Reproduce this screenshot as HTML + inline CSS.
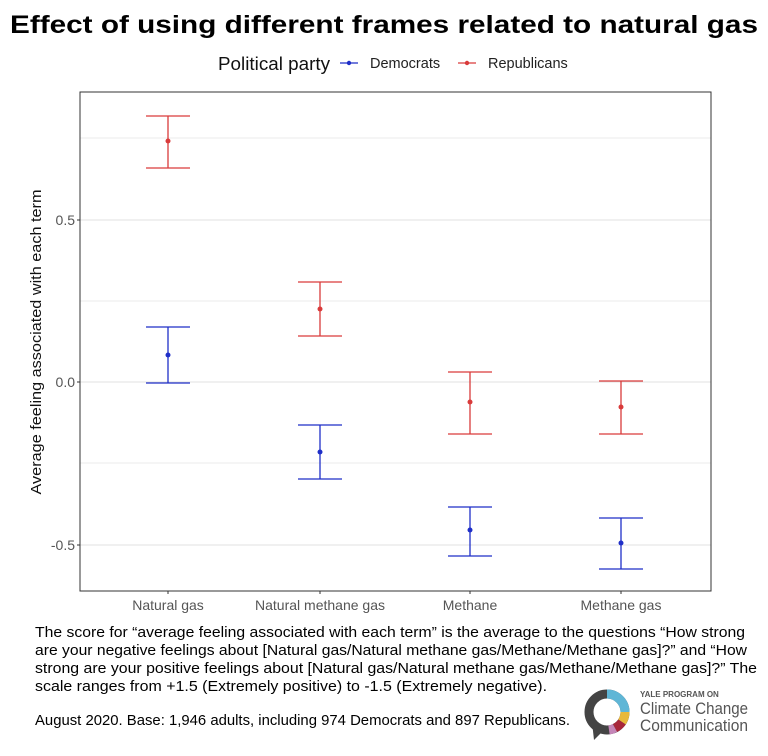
<!DOCTYPE html>
<html><head><meta charset="utf-8"><style>
body{margin:0;background:#fff;width:768px;height:751px;overflow:hidden;font-family:"Liberation Sans",Arial,sans-serif}
</style></head><body>
<svg width="768" height="751" xmlns="http://www.w3.org/2000/svg" font-family="Liberation Sans, Arial, sans-serif">
<text x="10" y="33" textLength="748" lengthAdjust="spacingAndGlyphs" font-size="25" font-weight="bold" fill="#000">Effect of using different frames related to natural gas</text>
<text x="218" y="70" textLength="112" lengthAdjust="spacingAndGlyphs" font-size="18" fill="#111">Political party</text>
<line x1="340" y1="63" x2="358" y2="63" stroke="#1f2fc8" stroke-width="1.3"/><circle cx="349" cy="63" r="2.2" fill="#1f2fc8"/>
<text x="370" y="68" font-size="14.5" fill="#222">Democrats</text>
<line x1="458" y1="63" x2="476" y2="63" stroke="#d93b3b" stroke-width="1.3"/><circle cx="467" cy="63" r="2.2" fill="#d93b3b"/>
<text x="488" y="68" font-size="14.5" fill="#222">Republicans</text>
<g stroke="#ebebeb" stroke-width="1">
<line x1="80" x2="711" y1="138" y2="138"/><line x1="80" x2="711" y1="301" y2="301"/><line x1="80" x2="711" y1="463" y2="463"/>
</g>
<g stroke="#e0e0e0" stroke-width="1">
<line x1="80" x2="711" y1="220" y2="220"/><line x1="80" x2="711" y1="382" y2="382"/><line x1="80" x2="711" y1="545" y2="545"/>
</g>
<rect x="80" y="92" width="631" height="499" fill="none" stroke="#333" stroke-width="1"/>
<g fill="#555" font-size="14" text-anchor="end">
<text x="75" y="225">0.5</text><text x="75" y="387">0.0</text><text x="75" y="550">-0.5</text>
</g>
<g stroke="#333"><line x1="77" x2="80" y1="220" y2="220"/><line x1="77" x2="80" y1="382" y2="382"/><line x1="77" x2="80" y1="545" y2="545"/>
<line x1="168" x2="168" y1="591" y2="594"/><line x1="320" x2="320" y1="591" y2="594"/><line x1="470" x2="470" y1="591" y2="594"/><line x1="621" x2="621" y1="591" y2="594"/></g>
<g fill="#555" font-size="14" text-anchor="middle">
<text x="168" y="610">Natural gas</text><text x="320" y="610">Natural methane gas</text><text x="470" y="610">Methane</text><text x="621" y="610">Methane gas</text>
</g>
<text transform="translate(41,342) rotate(-90)" text-anchor="middle" textLength="305" lengthAdjust="spacingAndGlyphs" font-size="15" fill="#111">Average feeling associated with each term</text>
<g stroke="#d93b3b" stroke-width="1.3" fill="#d93b3b">
<path d="M146 116H190M168 116V168M146 168H190" fill="none"/><circle cx="168" cy="141" r="2.5" stroke="none"/>
<path d="M298 282H342M320 282V336M298 336H342" fill="none"/><circle cx="320" cy="309" r="2.5" stroke="none"/>
<path d="M448 372H492M470 372V434M448 434H492" fill="none"/><circle cx="470" cy="402" r="2.5" stroke="none"/>
<path d="M599 381H643M621 381V434M599 434H643" fill="none"/><circle cx="621" cy="407" r="2.5" stroke="none"/>
</g>
<g stroke="#1f2fc8" stroke-width="1.3" fill="#1f2fc8">
<path d="M146 327H190M168 327V383M146 383H190" fill="none"/><circle cx="168" cy="355" r="2.5" stroke="none"/>
<path d="M298 425H342M320 425V479M298 479H342" fill="none"/><circle cx="320" cy="452" r="2.5" stroke="none"/>
<path d="M448 507H492M470 507V556M448 556H492" fill="none"/><circle cx="470" cy="530" r="2.5" stroke="none"/>
<path d="M599 518H643M621 518V569M599 569H643" fill="none"/><circle cx="621" cy="543" r="2.5" stroke="none"/>
</g>
<g font-size="15" fill="#000" lengthAdjust="spacingAndGlyphs">
<text x="35" y="637" textLength="710" lengthAdjust="spacingAndGlyphs">The score for “average feeling associated with each term” is the average to the questions “How strong</text>
<text x="35" y="655" textLength="712" lengthAdjust="spacingAndGlyphs">are your negative feelings about [Natural gas/Natural methane gas/Methane/Methane gas]?” and “How</text>
<text x="35" y="673" textLength="722" lengthAdjust="spacingAndGlyphs">strong are your positive feelings about [Natural gas/Natural methane gas/Methane/Methane gas]?” The</text>
<text x="35" y="691" textLength="512" lengthAdjust="spacingAndGlyphs">scale ranges from +1.5 (Extremely positive) to -1.5 (Extremely negative).</text>
<text x="35" y="725" textLength="535" lengthAdjust="spacingAndGlyphs">August 2020. Base: 1,946 adults, including 974 Democrats and 897 Republicans.</text>
</g>
<g transform="translate(607,712)" fill="none" stroke-width="9">
<circle r="18" stroke="#444"/>
<path d="M0 -18 A18 18 0 0 1 18 0" stroke="#5fb6d6"/>
<path d="M18 0 A18 18 0 0 1 15 10" stroke="#e8b93a"/>
<path d="M15 10 A18 18 0 0 1 8 16" stroke="#a8273b"/>
<path d="M8 16 A18 18 0 0 1 2 18" stroke="#c586b8"/>
<path d="M-15 10 L-13 28 L-4 19Z" fill="#444" stroke="none"/>
</g>
<text x="640" y="697" font-size="8" font-weight="bold" fill="#555">YALE PROGRAM ON</text>
<text x="640" y="714" textLength="108" lengthAdjust="spacingAndGlyphs" font-size="17" fill="#555">Climate Change</text>
<text x="640" y="731" textLength="108" lengthAdjust="spacingAndGlyphs" font-size="17" fill="#555">Communication</text>
</svg>
</body></html>
